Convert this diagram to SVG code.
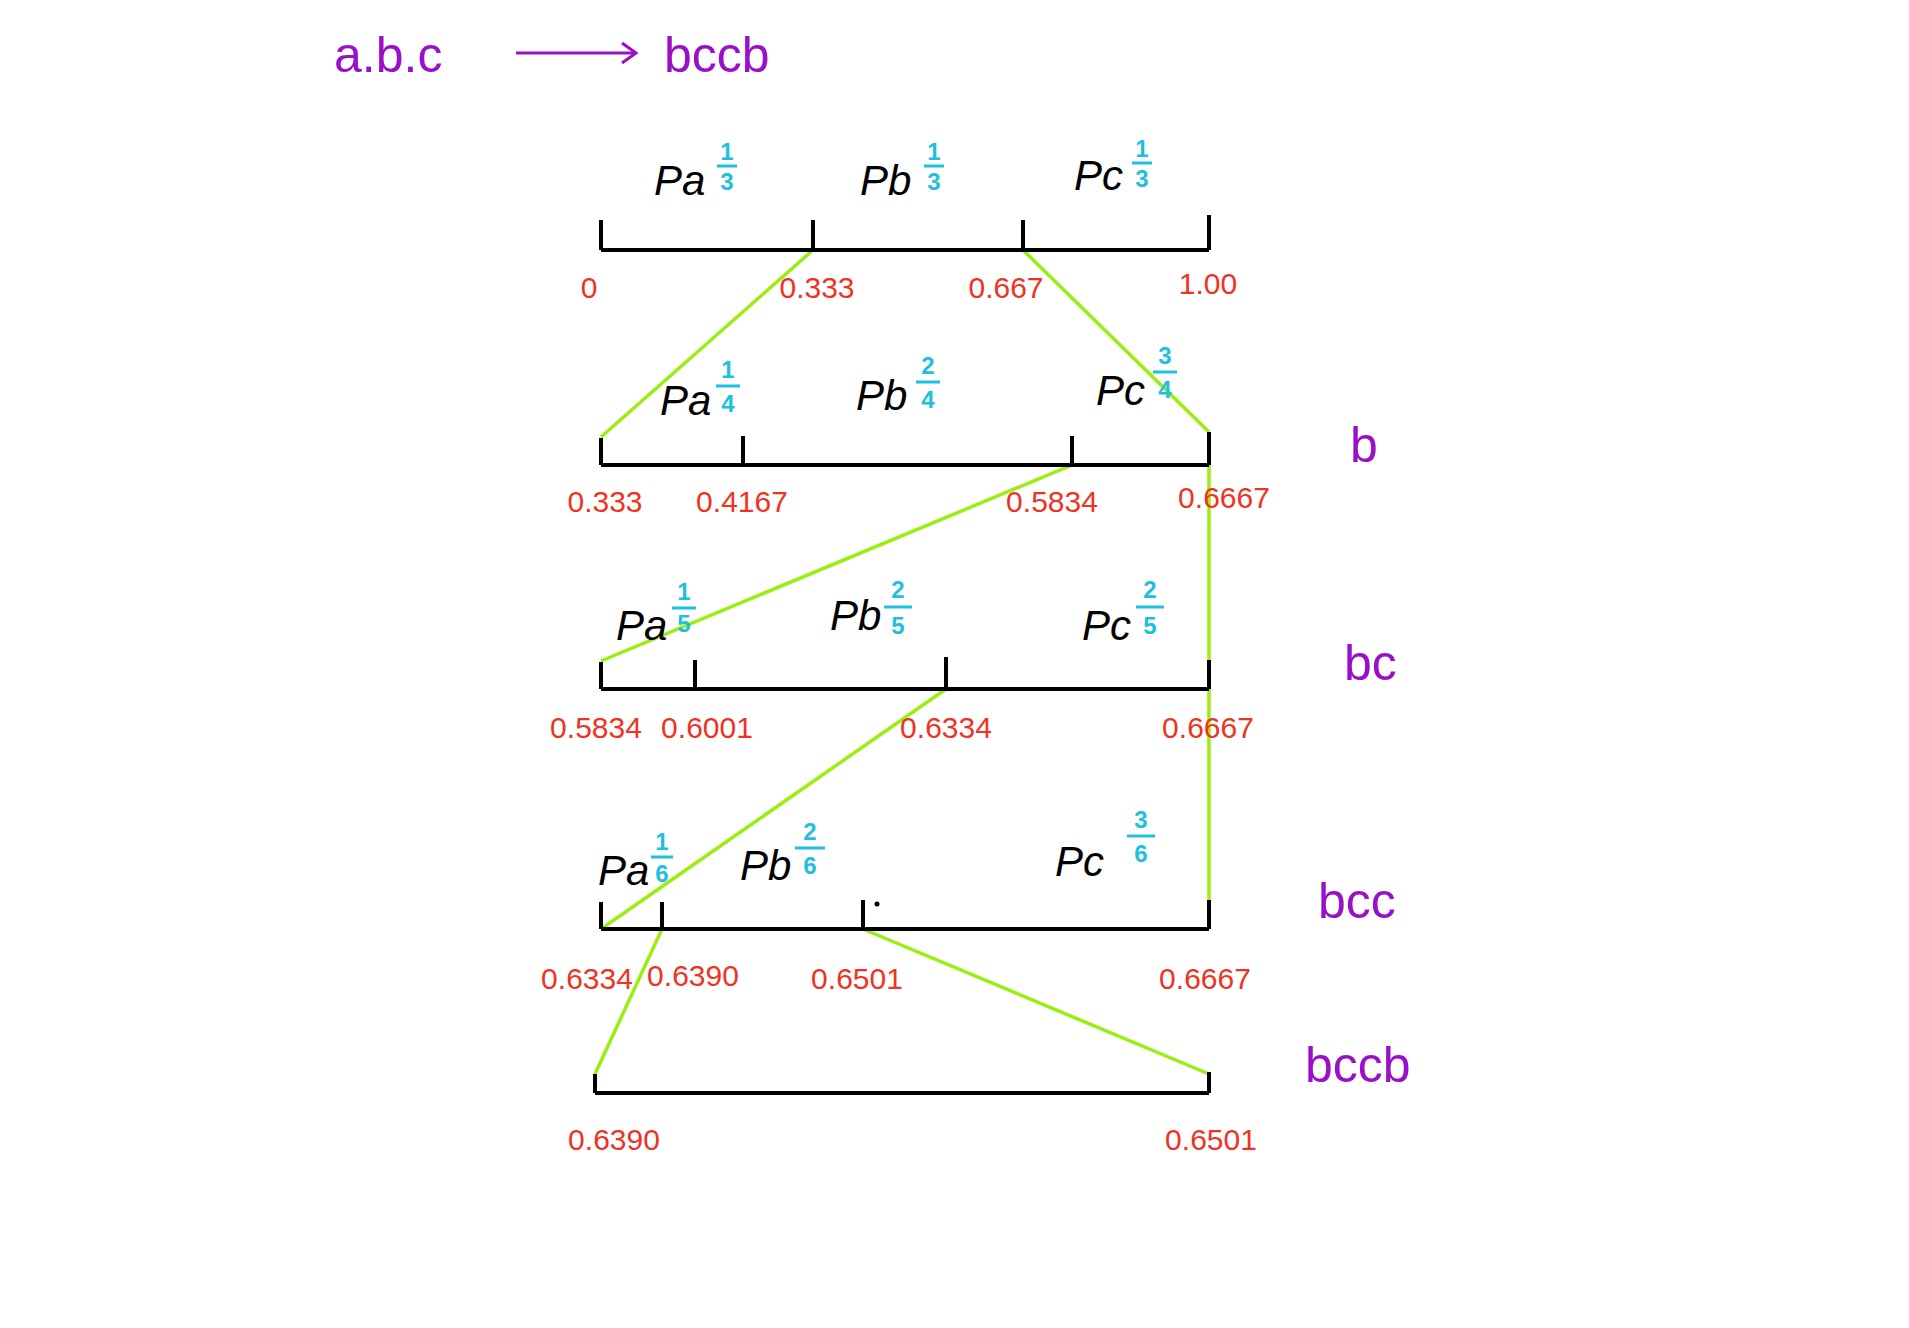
<svg xmlns="http://www.w3.org/2000/svg" width="1909" height="1328" viewBox="0 0 1909 1328">
<style>
.ax{stroke:#000;stroke-width:4;fill:none}
.g{stroke:#9aee10;stroke-width:3.5;fill:none}
.r{fill:#ee3322;font-family:"Liberation Sans",sans-serif;font-size:30px;text-anchor:middle}
.p{fill:#000;font-family:"Liberation Sans",sans-serif;font-size:42px;font-style:italic}
.f{fill:#1ec0dd;font-family:"Liberation Sans",sans-serif;font-size:24px;font-weight:bold;text-anchor:middle}
.fb{stroke:#1ec0dd;stroke-width:3}
.v{fill:#9a10c8;font-family:"Liberation Sans",sans-serif;font-size:50px}
</style>
<rect width="1909" height="1328" fill="#fff"/>
<g id="title">
<text class="v" x="334" y="72">a.b.c</text>
<line x1="516" y1="53" x2="634" y2="53" stroke="#9a10c8" stroke-width="3"/>
<path d="M622 43 L636 53 L622 63" stroke="#9a10c8" stroke-width="3" fill="none"/>
<text class="v" x="664" y="72">bccb</text>
</g>
<g id="connectors">
<line class="g" x1="813" y1="250" x2="601" y2="437"/>
<line class="g" x1="1023" y1="250" x2="1209" y2="432"/>
<line class="g" x1="1072" y1="465" x2="601" y2="661"/>
<line class="g" x1="1209" y1="432" x2="1209" y2="903"/>
<line class="g" x1="946" y1="689" x2="601" y2="929"/>
<line class="g" x1="662" y1="929" x2="595" y2="1074"/>
<line class="g" x1="863" y1="929" x2="1209" y2="1074"/>
</g>
<g id="row1">
<path class="ax" d="M601 250 H1209 M601 250 V220 M813 250 V220 M1023 250 V220 M1209 250 V215"/>
<text class="p" x="654" y="195">Pa</text><text class="f" x="727" y="160">1</text><line class="fb" x1="717" y1="166" x2="737" y2="166"/><text class="f" x="727" y="190">3</text>
<text class="p" x="860" y="195">Pb</text><text class="f" x="934" y="160">1</text><line class="fb" x1="924" y1="166" x2="944" y2="166"/><text class="f" x="934" y="190">3</text>
<text class="p" x="1074" y="190">Pc</text><text class="f" x="1142" y="157">1</text><line class="fb" x1="1132" y1="163" x2="1152" y2="163"/><text class="f" x="1142" y="187">3</text>
<text class="r" x="589" y="298">0</text><text class="r" x="817" y="298">0.333</text><text class="r" x="1006" y="298">0.667</text><text class="r" x="1208" y="294">1.00</text>
</g>
<g id="row2">
<path class="ax" d="M601 465 H1209 M601 465 V438 M743 465 V436 M1072 465 V436 M1209 465 V432"/>
<text class="p" x="660" y="415">Pa</text><text class="f" x="728" y="378">1</text><line class="fb" x1="716" y1="386" x2="740" y2="386"/><text class="f" x="728" y="412">4</text>
<text class="p" x="856" y="410">Pb</text><text class="f" x="928" y="374">2</text><line class="fb" x1="916" y1="382" x2="940" y2="382"/><text class="f" x="928" y="408">4</text>
<text class="p" x="1096" y="405">Pc</text><text class="f" x="1165" y="364">3</text><line class="fb" x1="1153" y1="372" x2="1177" y2="372"/><text class="f" x="1165" y="398">4</text>
<text class="r" x="605" y="512">0.333</text><text class="r" x="742" y="512">0.4167</text><text class="r" x="1052" y="512">0.5834</text><text class="r" x="1224" y="508">0.6667</text>
</g>
<g id="row3">
<path class="ax" d="M601 689 H1209 M601 689 V662 M695 689 V660 M946 689 V657 M1209 689 V660"/>
<text class="p" x="616" y="640">Pa</text><text class="f" x="684" y="600">1</text><line class="fb" x1="672" y1="608" x2="696" y2="608"/><text class="f" x="684" y="632">5</text>
<text class="p" x="830" y="630">Pb</text><text class="f" x="898" y="598">2</text><line class="fb" x1="884" y1="607" x2="912" y2="607"/><text class="f" x="898" y="634">5</text>
<text class="p" x="1082" y="640">Pc</text><text class="f" x="1150" y="598">2</text><line class="fb" x1="1136" y1="607" x2="1164" y2="607"/><text class="f" x="1150" y="634">5</text>
<text class="r" x="596" y="738">0.5834</text><text class="r" x="707" y="738">0.6001</text><text class="r" x="946" y="738">0.6334</text><text class="r" x="1208" y="738">0.6667</text>
</g>
<g id="row4">
<path class="ax" d="M601 929 H1209 M601 929 V902 M662 929 V902 M863 929 V900 M1209 929 V900"/>
<circle cx="877" cy="904" r="2.5" fill="#000"/>
<text class="p" x="598" y="885">Pa</text><text class="f" x="662" y="850">1</text><line class="fb" x1="651" y1="857" x2="673" y2="857"/><text class="f" x="662" y="882">6</text>
<text class="p" x="740" y="880">Pb</text><text class="f" x="810" y="840">2</text><line class="fb" x1="795" y1="848" x2="825" y2="848"/><text class="f" x="810" y="874">6</text>
<text class="p" x="1055" y="876">Pc</text><text class="f" x="1141" y="828">3</text><line class="fb" x1="1127" y1="836" x2="1155" y2="836"/><text class="f" x="1141" y="862">6</text>
<text class="r" x="587" y="989">0.6334</text><text class="r" x="693" y="986">0.6390</text><text class="r" x="857" y="989">0.6501</text><text class="r" x="1205" y="989">0.6667</text>
</g>
<g id="row5">
<path class="ax" d="M595 1093 H1209 M595 1093 V1074 M1209 1093 V1072"/>
<text class="r" x="614" y="1150">0.6390</text><text class="r" x="1211" y="1150">0.6501</text>
</g>
<g id="seq">
<text class="v" x="1350" y="462">b</text>
<text class="v" x="1344" y="680">bc</text>
<text class="v" x="1318" y="918">bcc</text>
<text class="v" x="1305" y="1082">bccb</text>
</g>
</svg>
